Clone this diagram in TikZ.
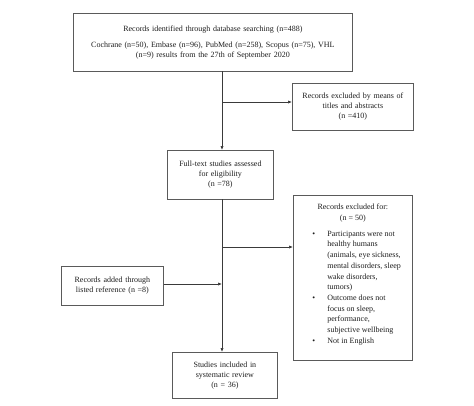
\documentclass[tikz,border=0pt]{standalone}
\usepackage{fontspec}
\setmainfont{Liberation Serif}
\usetikzlibrary{arrows.meta}
\definecolor{boxline}{HTML}{5A5A5A}
\definecolor{conn}{HTML}{3A3A3A}
\definecolor{txt}{HTML}{1E1E1E}
\newcommand{\bul}[1]{\par\hangindent=28.5pt\hangafter=1\noindent\makebox[28.5pt][l]{\hspace{13.5pt}\textbullet}#1}
\begin{document}
\begin{tikzpicture}[x=1pt,y=-1pt,
  box/.style={draw=boxline, line width=0.8pt, inner sep=0pt, anchor=north west,
    align=center, text=txt, font=\fontsize{8}{10}\selectfont},
  conn/.style={draw=conn, line width=0.7pt},
  arr/.style={conn, -{Latex[length=4pt,width=3.2pt]}}]
\useasboundingbox (0,0) rectangle (474,405);
\fill[white] (0,0) rectangle (474,405);
\node[box, minimum width=279, minimum height=58, text width=265] (ident) at (73,13)
  {Records identified through database searching (n=488)\\[6pt]
   Cochrane (n=50), Embase (n=96), PubMed (n=258), Scopus (n=75), VHL\\
   (n=9) results from the 27th of September 2020};
\node[box, minimum width=121, minimum height=47, text width=115] (excl1) at (292,83)
  {Records excluded by means of\\ titles and abstracts\\ (n =410)};
\node[box, minimum width=106, minimum height=49, text width=100] (full) at (167,150)
  {Full-text studies assessed\\ for eligibility\\ (n =78)};
\node[box, minimum width=119, minimum height=165, font=\fontsize{8}{10.7}\selectfont] (excl2) at (293,195)
  {\begin{minipage}{108pt}\centering Records excluded for:\\ (n = 50)\par\vspace{5.3pt}\raggedright
   \bul{Participants were not\newline healthy humans\newline (animals, eye sickness,\newline mental disorders, sleep\newline wake disorders,\newline tumors)}
   \bul{Outcome does not\newline focus on sleep,\newline performance,\newline subjective wellbeing}
   \bul{Not in English}\par\vspace*{7pt}\end{minipage}};
\node[box, minimum width=102, minimum height=39, text width=98] (added) at (61,266)
  {Records added through\\ listed reference (n =8)};
\node[box, minimum width=105, minimum height=46, text width=100] (incl) at (172,352)
  {Studies included in\\ systematic review\\ (n = 36)};
\coordinate (t1) at (222,71);
\coordinate (b1) at (222,102);
\coordinate (t2) at (222,199);
\coordinate (b2) at (222,247);
\coordinate (b3) at (222,284);
\draw[arr] (t1) -- (full.north -| t1);
\draw[arr] (b1) -- (excl1.west |- b1);
\draw[arr] (t2) -- (incl.north -| t2);
\draw[arr] (b2) -- (excl2.west |- b2);
\draw[arr] (added.east |- b3) -- (b3);
\end{tikzpicture}
\end{document}
